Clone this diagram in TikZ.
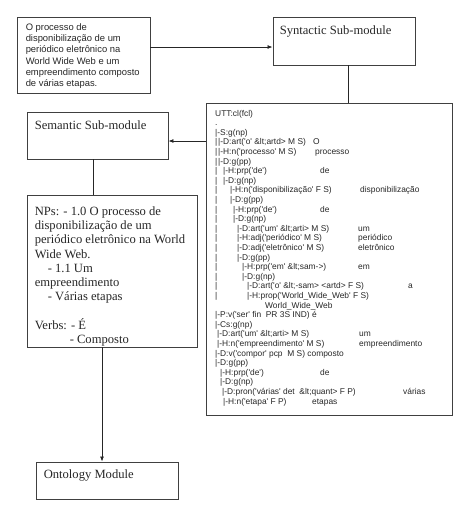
\documentclass[tikz,border=0pt]{standalone}
\usepackage{fontspec}
\setmainfont{Liberation Serif}
\newfontfamily\uttfont{Liberation Sans}
\usetikzlibrary{positioning,arrows.meta}
\newcommand{\q}{\textquotesingle}

\begin{document}
\begin{tikzpicture}[x=1pt,y=-1pt,
    module/.style={draw=black!75, line width=0.9pt, inner sep=0pt},
    modlabel/.style={inner sep=0pt, text=black!85, font=\fontsize{12.6}{14.3}\selectfont},
    utt/.style={anchor=base west, inner sep=0pt, text=black!85, font=\uttfont\fontsize{8.4}{9.6}\selectfont},
    link/.style={line width=0.8pt, draw=black!85},
    flow/.style={link, -{Latex[length=5pt,width=4pt]}}]

    \useasboundingbox (0,0) rectangle (474,515);

    % Define the boxes
    \node (inbox) at (83.5,55) [module, minimum width=133pt, minimum height=76pt] {};
    \node (syn) at (344,41) [module, minimum width=142pt, minimum height=48pt] {};
    \node (utt) at (329,259) [module, minimum width=246pt, minimum height=312pt] {};
    \node (sem) at (97.5,135.5) [module, minimum width=141pt, minimum height=47pt] {};
    \node (nps) at (112,271) [module, minimum width=170pt, minimum height=152pt] {};
    \node (onto) at (107,480.5) [module, minimum width=142pt, minimum height=37pt] {};

    % Place the box titles
    \node [inner sep=0pt, text=black!85, align=left, font=\uttfont\fontsize{9.4}{11.2}\selectfont,
        below right=7pt and 9pt of inbox.north west]
        {O processo de\\ disponibilização de um\\ periódico eletrônico na\\ World Wide Web e um\\ empreendimento composto\\ de várias etapas.};
    \node [modlabel, below right=8.7pt and 7pt of syn.north west] {Syntactic Sub-module};
    \node [modlabel, below right=8.7pt and 8pt of sem.north west] {Semantic Sub-module};
    \node [modlabel, below right=8pt and 8pt of onto.north west] {Ontology Module};
    \node [modlabel, align=left, below right=11.7pt and 8pt of nps.north west]
        {NPs: - 1.0 O processo de\\ disponibilização de um\\ periódico eletrônico na World\\ Wide Web.\\
         \hspace{13pt}- 1.1 Um\\ empreendimento\\ \hspace{13pt}- Várias etapas\\ \mbox{}\\
         Verbs: - É\\ \hspace{35pt}- Composto};

    % Draw the parse tree lines
    \node [utt] at (215,116.0) {UTT:cl(fcl)};
    \node [utt] at (215,125.6) {.};
    \node [utt] at (215,135.2) {|-S:g(np)};
    \node [utt] at (218,144.8) {|-D:art(\q o\q{} \&lt;artd> M S)};
    \node [utt] at (218,154.4) {|-H:n(\q processo\q{} M S)};
    \node [utt] at (218,164.0) {|-D:g(pp)};
    \node [utt] at (223,173.6) {|-H:prp(\q de\q)};
    \node [utt] at (223,183.2) {|-D:g(np)};
    \node [utt] at (230,192.8) {|-H:n(\q disponibilização\q{} F S)};
    \node [utt] at (230,202.4) {|-D:g(pp)};
    \node [utt] at (233,212.0) {|-H:prp(\q de\q)};
    \node [utt] at (233,221.6) {|-D:g(np)};
    \node [utt] at (237,231.2) {|-D:art(\q um\q{} \&lt;arti> M S)};
    \node [utt] at (237,240.8) {|-H:adj(\q periódico\q{} M S)};
    \node [utt] at (237,250.4) {|-D:adj(\q eletrônico\q{} M S)};
    \node [utt] at (237,260.0) {|-D:g(pp)};
    \node [utt] at (242,269.6) {|-H:prp(\q em\q{} \&lt;sam->)};
    \node [utt] at (242,279.2) {|-D:g(np)};
    \node [utt] at (247,288.8) {|-D:art(\q o\q{} \&lt;-sam> <artd> F S)};
    \node [utt] at (247,298.4) {|-H:prop(\q World\_Wide\_Web\q{} F S)};
    \node [utt] at (265,308.0) {World\_Wide\_Web};
    \node [utt] at (215,317.6) {|-P:v(\q ser\q{} fin\ \ PR 3S IND) é};
    \node [utt] at (215,327.2) {|-Cs:g(np)};
    \node [utt] at (217,336.8) {|-D:art(\q um\q{} \&lt;arti> M S)};
    \node [utt] at (217,346.4) {|-H:n(\q empreendimento\q{} M S)};
    \node [utt] at (215,356.0) {|-D:v(\q compor\q{} pcp\ \ M S) composto};
    \node [utt] at (215,365.6) {|-D:g(pp)};
    \node [utt] at (220,375.2) {|-H:prp(\q de\q)};
    \node [utt] at (220,384.8) {|-D:g(np)};
    \node [utt] at (222,394.4) {|-D:pron(\q várias\q{} det\ \ \&lt;quant> F P)};
    \node [utt] at (223,404.0) {|-H:n(\q etapa\q{} F P)};

    % Draw the vertical bars of the tree
    \node [utt] at (215,144.8) {|};
    \node [utt] at (215,154.4) {|};
    \node [utt] at (215,164.0) {|};
    \node [utt] at (215,173.6) {|};
    \node [utt] at (215,183.2) {|};
    \node [utt] at (215,192.8) {|};
    \node [utt] at (215,202.4) {|};
    \node [utt] at (215,212.0) {|};
    \node [utt] at (215,221.6) {|};
    \node [utt] at (215,231.2) {|};
    \node [utt] at (215,240.8) {|};
    \node [utt] at (215,250.4) {|};
    \node [utt] at (215,260.0) {|};
    \node [utt] at (215,269.6) {|};
    \node [utt] at (215,279.2) {|};
    \node [utt] at (215,288.8) {|};
    \node [utt] at (215,298.4) {|};

    % Place the word forms
    \node [utt] at (313,144.8) {O};
    \node [utt] at (315,154.4) {processo};
    \node [utt] at (320,173.6) {de};
    \node [utt] at (360,192.8) {disponibilização};
    \node [utt] at (320,212.0) {de};
    \node [utt] at (358,231.2) {um};
    \node [utt] at (358,240.8) {periódico};
    \node [utt] at (358,250.4) {eletrônico};
    \node [utt] at (358,269.6) {em};
    \node [utt] at (408,288.8) {a};
    \node [utt] at (359,336.8) {um};
    \node [utt] at (359,346.4) {empreendimento};
    \node [utt] at (320,375.2) {de};
    \node [utt] at (403,394.4) {várias};
    \node [utt] at (312,404.0) {etapas};

    % Define the connector ends
    \coordinate (inout) at ([yshift=8pt]inbox.east);
    \coordinate (synout) at ([xshift=4pt]syn.south);
    \coordinate (semin) at ([yshift=-5.5pt]sem.east);
    \coordinate (semout) at ([xshift=-4.5pt]sem.south);
    \coordinate (npsout) at ([xshift=-10pt]nps.south);

    % Draw the connectors
    \draw [flow] (inout) -- (inout -| syn.west);
    \draw [link] (synout) -- (synout |- utt.north);
    \draw [flow] (semin -| utt.west) -- (semin);
    \draw [link] (semout) -- (semout |- nps.north);
    \draw [flow] (npsout) -- (npsout |- onto.north);

\end{tikzpicture}
\end{document}
